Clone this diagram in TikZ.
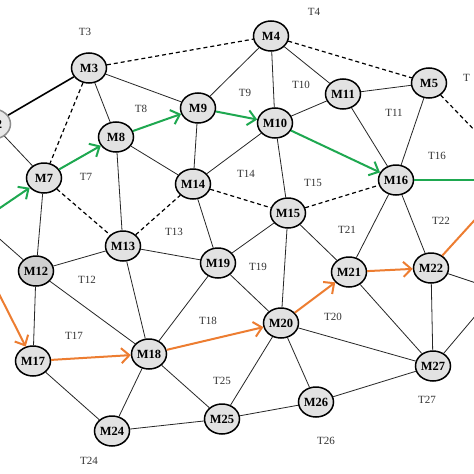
\documentclass[tikz,border=0pt]{standalone}
\usepackage{fontspec}
\setmainfont{Liberation Serif}
\usetikzlibrary{arrows.meta,shapes.geometric}
\definecolor{mgreen}{RGB}{30,168,80}
\definecolor{morange}{RGB}{237,125,49}
\definecolor{nodefill}{RGB}{226,226,226}
\definecolor{nodedark}{RGB}{208,208,208}
\begin{document}
\begin{tikzpicture}[x=1pt,y=-1pt,
  mnode/.style={ellipse, draw=black, line width=1.5pt, fill=nodefill, minimum width=35pt, minimum height=30pt, inner sep=0pt, font=\fontsize{12.5}{12.5}\selectfont\bfseries},
  tlabel/.style={font=\fontsize{11}{11}\selectfont, text=black!80, inner sep=0pt},
  edge/.style={draw=black!85, line width=0.8pt},
  dedge/.style={draw=black, line width=1.2pt, dash pattern=on 4pt off 3pt},
  thickedge/.style={draw=black, line width=1.6pt},
  garrow/.style={draw=mgreen, line width=2pt, -{Straight Barb[length=8pt,width=15pt,line width=2pt]}},
  gline/.style={draw=mgreen, line width=2pt},
  oarrow/.style={draw=morange, line width=2pt, -{Straight Barb[length=8pt,width=15pt,line width=2pt]}},
  oline/.style={draw=morange, line width=2pt}]
\useasboundingbox (0,0) rectangle (474,474);
\fill[white] (0,0) rectangle (474,474);

% nodes
\node[mnode, draw=black!45, fill=nodefill!80] (M2) at (-7,124) {M2};
\node[mnode] (M3) at (89,68) {M3};
\node[mnode] (M4) at (271,36) {M4};
\node[mnode] (M5) at (429,83) {M5};
\node[mnode] (M7) at (44,178) {M7};
\node[mnode] (M8) at (116,137) {M8};
\node[mnode] (M9) at (198,108) {M9};
\node[mnode] (M10) at (275,123) {M10};
\node[mnode] (M11) at (343,94) {M11};
\node[mnode, fill=nodedark] (M12) at (36,271) {M12};
\node[mnode] (M13) at (123,246) {M13};
\node[mnode] (M14) at (193,184) {M14};
\node[mnode] (M15) at (288,213) {M15};
\node[mnode] (M16) at (396,180) {M16};
\node[mnode] (M17) at (33,361) {M17};
\node[mnode] (M18) at (149,354) {M18};
\node[mnode] (M19) at (218,263) {M19};
\node[mnode] (M20) at (281,323) {M20};
\node[mnode] (M21) at (349,272) {M21};
\node[mnode] (M22) at (431,268) {M22};
\node[mnode] (M24) at (112,431) {M24};
\node[mnode] (M25) at (222,419) {M25};
\node[mnode] (M26) at (316,402) {M26};
\node[mnode] (M27) at (433,366) {M27};

% off-picture coordinates
\coordinate (Lg) at (-6,212);
\coordinate (Ll) at (-6,234);
\coordinate (Lo) at (-6,284);
\coordinate (Rd) at (482,138);
\coordinate (Rg) at (482,180);
\coordinate (Ro) at (482,212);
\coordinate (Ra) at (482,285);
\coordinate (Rb) at (482,308);

% thin edges
\draw[edge] (M3) -- (M8);
\draw[edge] (M3) -- (M9);
\draw[edge] (M9) -- (M4);
\draw[edge] (M4) -- (M10);
\draw[edge] (M4) -- (M11);
\draw[edge] (M11) -- (M10);
\draw[edge] (M11) -- (M5);
\draw[edge] (M11) -- (M16);
\draw[edge] (M5) -- (M16);
\draw[edge] (M2) -- (M7);
\draw[edge] (M7) -- (M12);
\draw[edge] (M8) -- (M13);
\draw[edge] (M8) -- (M14);
\draw[edge] (M9) -- (M14);
\draw[edge] (M10) -- (M14);
\draw[edge] (M10) -- (M15);
\draw[edge] (M16) -- (M21);
\draw[edge] (M16) -- (M22);
\draw[edge] (M15) -- (M19);
\draw[edge] (M15) -- (M20);
\draw[edge] (M15) -- (M21);
\draw[edge] (M14) -- (M19);
\draw[edge] (M13) -- (M19);
\draw[edge] (M13) -- (M12);
\draw[edge] (M13) -- (M18);
\draw[edge] (M12) -- (M17);
\draw[edge] (M12) -- (M18);
\draw[edge] (Ll) -- (M12);
\draw[edge] (M19) -- (M18);
\draw[edge] (M19) -- (M20);
\draw[edge] (M20) -- (M25);
\draw[edge] (M20) -- (M26);
\draw[edge] (M20) -- (M27);
\draw[edge] (M21) -- (M27);
\draw[edge] (M22) -- (M27);
\draw[edge] (M22) -- (Ra);
\draw[edge] (M27) -- (Rb);
\draw[edge] (M27) -- (M26);
\draw[edge] (M26) -- (M25);
\draw[edge] (M25) -- (M18);
\draw[edge] (M25) -- (M24);
\draw[edge] (M18) -- (M24);
\draw[edge] (M17) -- (M24);

% thick edge
\draw[thickedge] (M2) -- (M3);

% dashed edges
\draw[dedge] (M3) -- (M4);
\draw[dedge] (M4) -- (M5);
\draw[dedge] (M5) -- (Rd);
\draw[dedge] (M3) -- (M7);
\draw[dedge] (M7) -- (M13);
\draw[dedge] (M13) -- (M14);
\draw[dedge] (M14) -- (M15);
\draw[dedge] (M15) -- (M16);

% green path
\draw[garrow] (Lg) -- (M7);
\draw[garrow] (M7) -- (M8);
\draw[garrow] (M8) -- (M9);
\draw[garrow] (M9) -- (M10);
\draw[garrow] (M10) -- (M16);
\draw[gline] (M16) -- (Rg);

% orange path
\draw[oarrow] (Lo) -- (M17);
\draw[oarrow] (M17) -- (M18);
\draw[oarrow] (M18) -- (M20);
\draw[oarrow] (M20) -- (M21);
\draw[oarrow] (M21) -- (M22);
\draw[oline] (M22) -- (Ro);

% labels
\node[tlabel] (T3) at (85,32) {T3};
\node[tlabel] (T4) at (314,12) {T4};
\node[tlabel, anchor=west] (T6) at (463,78) {T};
\node[tlabel] (T7) at (86,177) {T7};
\node[tlabel] (T8) at (141,109) {T8};
\node[tlabel] (T9) at (245,93) {T9};
\node[tlabel] (T10) at (301,85) {T10};
\node[tlabel] (T11) at (394,113) {T11};
\node[tlabel] (T12) at (87,280) {T12};
\node[tlabel] (T13) at (174,232) {T13};
\node[tlabel] (T14) at (246,174) {T14};
\node[tlabel] (T15) at (313,183) {T15};
\node[tlabel] (T16) at (437,156) {T16};
\node[tlabel] (T17) at (74,336) {T17};
\node[tlabel] (T18) at (208,321) {T18};
\node[tlabel] (T19) at (258,267) {T19};
\node[tlabel] (T20) at (333,317) {T20};
\node[tlabel] (T21) at (347,230) {T21};
\node[tlabel] (T22) at (441,221) {T22};
\node[tlabel] (T24) at (89,461) {T24};
\node[tlabel] (T25) at (222,381) {T25};
\node[tlabel] (T26) at (326,441) {T26};
\node[tlabel] (T27) at (427,400) {T27};
\end{tikzpicture}
\end{document}
